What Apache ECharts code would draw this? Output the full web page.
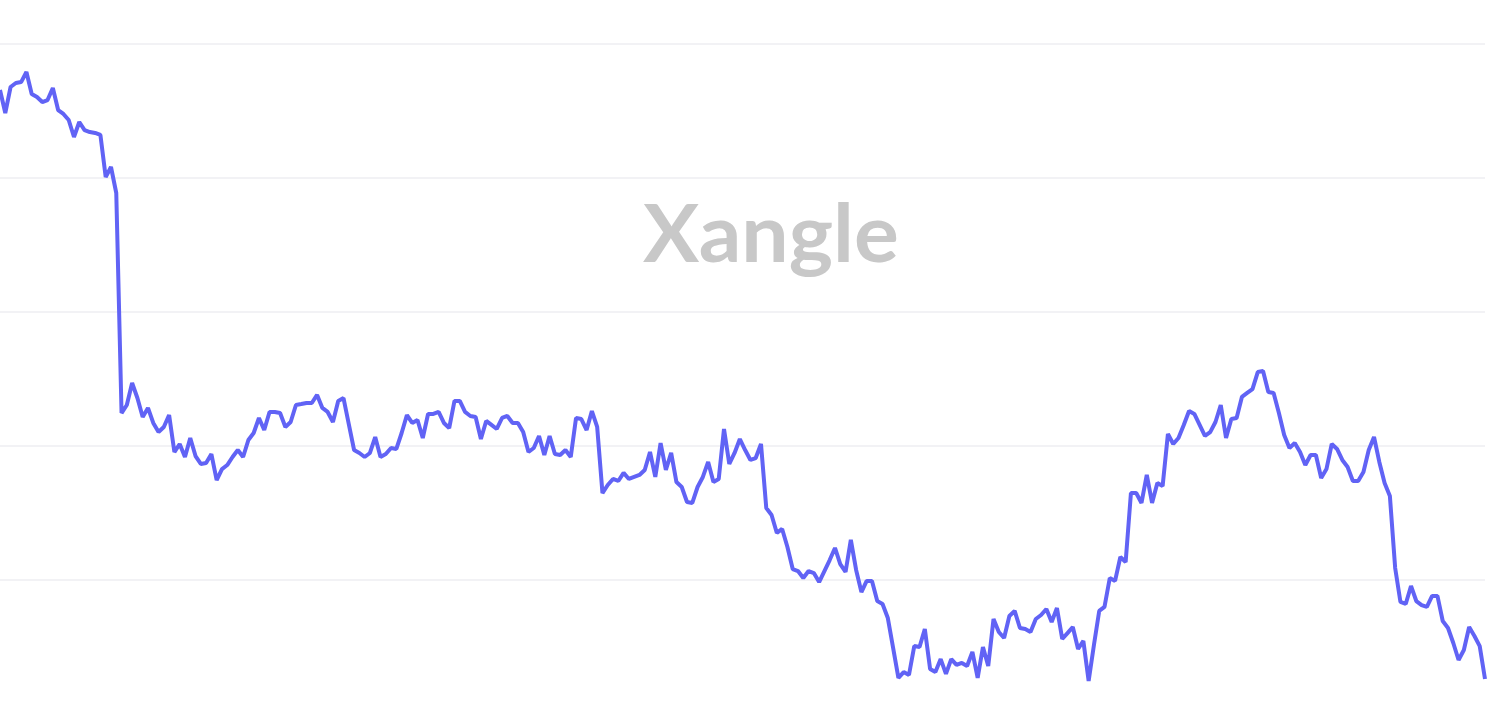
<!DOCTYPE html>
<html>
<head>
<meta charset="utf-8">
<script src="https://cdn.jsdelivr.net/npm/echarts@6/dist/echarts.min.js"></script>
<style>
html,body{margin:0;padding:0;background:#fff;overflow:hidden;width:1489px;height:707px;}
#chart{width:1489px;height:714px;}
</style>
</head>
<body>
<div id="chart"></div>
<script>
// Series values (y-axis units unknown in the reference; gridlines every 100)
var values = [
465.7,448.5,467.9,470.9,471.6,479.1,462.7,460.4,456.7,458.2,
467.2,450.7,447.8,443.3,430.6,441.8,435.8,434.3,433.6,432.1,
400.7,408.2,388.8,224.6,230.6,247.0,235.8,221.6,228.4,217.2,
210.4,214.2,223.1,195.5,201.5,191.8,206.0,192.5,186.6,187.3,
194.0,174.6,182.8,185.8,191.8,197.0,191.8,204.5,209.7,220.9,
211.9,225.4,225.4,224.6,214.2,217.9,230.6,231.3,232.1,232.1,
238.1,228.4,225.4,217.9,233.6,235.8,216.4,197.0,194.8,191.8,
194.8,206.7,191.8,194.0,198.5,197.8,209.7,223.1,217.2,219.4,
206.0,223.9,223.9,225.4,217.2,213.4,233.6,233.6,225.4,222.4,
221.6,205.2,218.7,215.7,212.7,220.9,222.4,217.2,217.2,210.4,
195.5,198.5,207.5,193.3,207.5,194.0,193.3,197.0,191.8,220.9,
220.1,211.9,226.1,214.2,164.9,170.9,175.4,173.9,179.9,175.4,
176.9,178.4,182.1,195.5,176.9,202.2,182.1,194.8,173.1,169.4,
158.2,157.5,169.4,176.9,188.1,173.1,175.4,212.7,186.6,194.8,
205.2,197.0,189.6,191.0,201.5,153.7,148.5,135.1,138.1,124.6,
108.2,106.7,101.5,106.7,105.2,98.5,106.7,114.9,123.9,111.9,
106.0,129.9,107.5,91.0,99.3,99.3,84.3,82.1,71.6,49.3,
26.9,31.3,29.1,50.7,50.0,63.4,33.6,31.3,41.0,29.9,
41.0,36.6,38.1,35.8,46.3,26.9,50.0,35.8,70.9,61.2,
56.7,73.1,76.9,64.2,63.4,61.2,70.9,73.9,78.4,68.7,
79.1,56.0,60.4,64.9,48.5,54.5,24.6,51.5,76.9,79.9,
101.5,99.3,117.2,113.4,164.9,164.9,157.5,178.4,157.5,172.4,
170.1,209.0,201.5,206.0,215.7,226.1,223.9,215.7,207.5,210.4,
217.9,230.6,206.0,220.1,220.9,236.6,239.6,242.5,255.2,256.0,
240.3,239.6,224.6,208.2,198.5,202.2,195.5,185.8,193.3,193.3,
176.1,182.8,201.5,197.8,189.6,184.3,173.9,173.9,180.6,197.0,
206.7,188.1,172.4,162.7,109.0,83.6,82.1,95.5,84.3,81.3,
79.9,88.1,88.1,69.4,64.2,53.0,40.3,47.8,64.9,58.2,
50.7,26.1
];
// Category labels: one per observation (dates are not shown in the reference)
var categories = values.map(function (_, i) { return String(i + 1); });
var watermarkText = 'Xangle';

var chart = echarts.init(document.getElementById('chart'), null, {renderer: 'canvas'});
chart.setOption({
  animation: false,
  backgroundColor: '#ffffff',
  grid: {left: -2, right: 4, top: 44, bottom: 0, containLabel: false},
  xAxis: {
    type: 'category',
    data: categories,
    boundaryGap: false,
    show: false
  },
  yAxis: {
    type: 'value',
    min: 0,
    max: 500,
    interval: 100,
    axisLine: {show: false},
    axisTick: {show: false},
    axisLabel: {show: false},
    splitLine: {show: true, lineStyle: {color: '#eeeef2', width: 1.5}}
  },
  graphic: [{
    type: 'text',
    x: 643,
    y: 196,
    scaleX: 1.05,
    z: 0,
    silent: true,
    style: {
      text: watermarkText,
      font: 'bold 80px Lato',
      fill: '#c8c8c8'
    }
  }],
  series: [{
    type: 'line',
    data: values,
    showSymbol: false,
    symbol: 'none',
    z: 5,
    lineStyle: {color: '#6163f5', width: 4},
    clip: true
  }]
});
</script>
</body>
</html>
